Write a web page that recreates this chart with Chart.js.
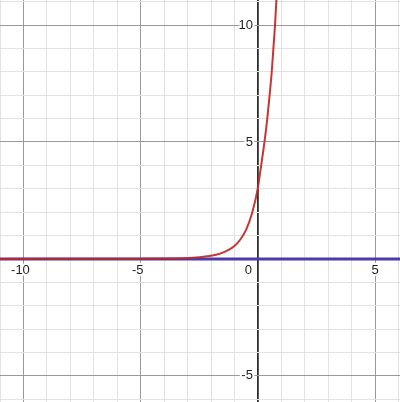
<!doctype html>
<html lang="en">
<head>
<meta charset="utf-8">
<title>Graph</title>
<script src="https://cdn.jsdelivr.net/npm/chart.js@4.4.1/dist/chart.umd.min.js"></script>
<style>
  html, body { margin: 0; padding: 0; background: #fff; }
  #wrap { width: 400px; height: 402px; }
</style>
</head>
<body>
<div id="wrap"><canvas id="myChart"></canvas></div>
<script>
// curve
const curveX = [-11, -5, -4, -3, -2.5, -2, -1.75, -1.5, -1.25, -1, -0.75, -0.5, -0.25, 0, 0.14, 0.28, 0.4, 0.5, 0.59, 0.66, 0.73, 0.8];
const curveY = [0, 0.005, 0.015, 0.04, 0.075, 0.13, 0.19, 0.27, 0.38, 0.55, 0.83, 1.25, 1.95, 3.05, 4, 5, 6, 7, 8, 9, 10, 11.3];
// horizontal line y = 0
const lineX = [-11, 6.1];
const lineY = [0, 0];

const xLabels = [-10, -5, 0, 5];
const yLabels = [10, 5, -5];

const xMin = -11.0, xMax = 6.06;
const yMin = -6.12, yMax = 11.07;

const toPts = (xs, ys) => xs.map((x, i) => ({ x: x, y: ys[i] }));

const gridColor = (ctx) => {
  const v = ctx.tick.value;
  if (v === 0) return '#2e2e2e';
  if (v % 5 === 0) return '#999999';
  return '#e2e2e2';
};
const gridWidth = (ctx) => (ctx.tick.value === 0 ? 1.8 : 1);

// axis numbers drawn next to the axes, like the graphing tool does
const axisLabels = {
  id: 'axisLabels',
  afterDatasetsDraw(chart) {
    const c = chart.ctx;
    const sx = chart.scales.x, sy = chart.scales.y;
    const ox = sx.getPixelForValue(0), oy = sy.getPixelForValue(0);
    c.save();
    c.font = '13px "Liberation Sans", Arial, sans-serif';
    c.lineJoin = 'round';
    c.lineWidth = 4;
    c.strokeStyle = '#fff';
    c.fillStyle = '#1e1e1e';
    c.textBaseline = 'middle';
    xLabels.forEach(v => {
      const t = String(v);
      let px = sx.getPixelForValue(v);
      if (v === 0) { c.textAlign = 'right'; px = ox - 6; }
      else { c.textAlign = 'center'; px = px - (v < 0 ? 3 : 0); }
      c.strokeText(t, px, oy + 12);
      c.fillText(t, px, oy + 12);
    });
    c.textAlign = 'right';
    yLabels.forEach(v => {
      const py = sy.getPixelForValue(v);
      c.strokeText(String(v), ox - 5, py);
      c.fillText(String(v), ox - 5, py);
    });
    c.restore();
  }
};

new Chart(document.getElementById('myChart'), {
  type: 'scatter',
  data: {
    datasets: [
      {
        data: toPts(lineX, lineY),
        showLine: true,
        borderColor: '#4f3aac',
        borderWidth: 3,
        pointRadius: 0,
        order: 2
      },
      {
        data: toPts(curveX, curveY),
        showLine: true,
        borderColor: 'rgba(192, 38, 34, 0.92)',
        borderWidth: 2,
        pointRadius: 0,
        cubicInterpolationMode: 'monotone',
        order: 1
      }
    ]
  },
  options: {
    responsive: true,
    maintainAspectRatio: false,
    animation: false,
    layout: { padding: 0 },
    plugins: { legend: { display: false }, tooltip: { enabled: false } },
    scales: {
      x: {
        type: 'linear',
        min: xMin,
        max: xMax,
        ticks: { display: false, stepSize: 1, includeBounds: false },
        grid: { color: gridColor, lineWidth: gridWidth, drawTicks: false },
        border: { display: false }
      },
      y: {
        type: 'linear',
        min: yMin,
        max: yMax,
        ticks: { display: false, stepSize: 1, includeBounds: false },
        grid: { color: gridColor, lineWidth: gridWidth, drawTicks: false },
        border: { display: false }
      }
    }
  },
  plugins: [axisLabels]
});
</script>
</body>
</html>
